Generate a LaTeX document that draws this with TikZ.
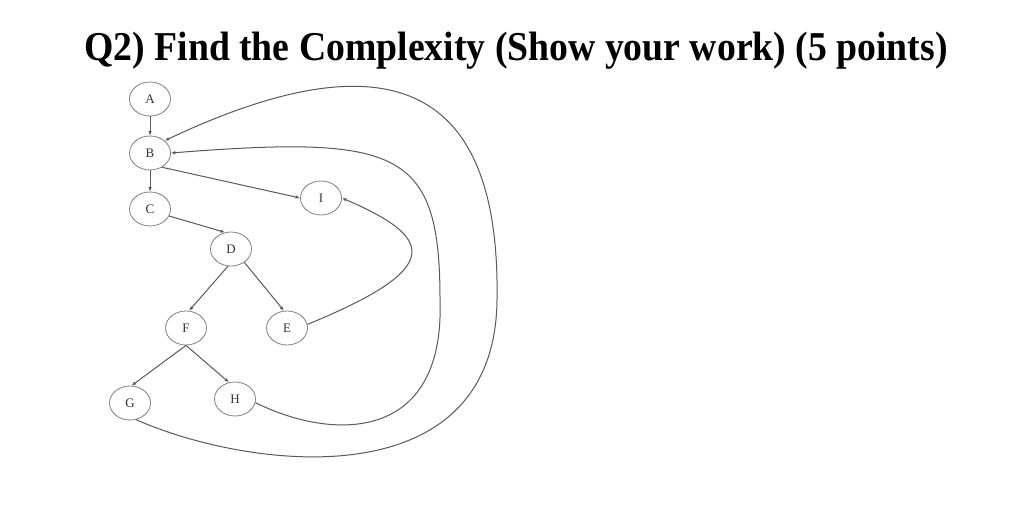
\documentclass[tikz,border=0pt]{standalone}
\usepackage{fontspec}
\setmainfont{Liberation Serif}
\usetikzlibrary{shapes.geometric,arrows.meta}

\begin{document}
\begin{tikzpicture}[x=1pt,y=-1pt,
  vertex/.style={ellipse,draw=black!50,line width=0.8pt,minimum width=41pt,minimum height=34pt,inner sep=0pt,text=black!80,font=\fontsize{13}{14}\selectfont},
  edge/.style={draw=black!65,line width=1pt,-{Latex[length=4.5pt,width=3.5pt]}}]
\path[use as bounding box,fill=white] (0,0) rectangle (1032,516);
\node[font=\fontsize{41}{44}\bfseries\selectfont,xscale=0.92] (title) at (516,51) {Q2) Find the Complexity (Show your work) (5 points)};
\node[vertex] (A) at (150,99) {A};
\node[vertex] (B) at (150,153) {B};
\node[vertex] (C) at (150,209) {C};
\node[vertex] (D) at (231,249) {D};
\node[vertex] (I) at (321,198) {I};
\node[vertex] (F) at (186,328) {F};
\node[vertex] (E) at (287,328) {E};
\node[vertex] (G) at (130,403) {G};
\node[vertex] (H) at (235,399) {H};
\draw[edge] (A) -- (B);
\draw[edge] (B) -- (C);
\draw[edge] (B.-50) -- (I.west);
\draw[edge] (C.-20) -- (D.110);
\draw[edge] (D.-100) -- (F.80);
\draw[edge] (D.-45) -- (E.100);
\draw[edge] (F.south) -- (G.85);
\draw[edge] (F.south) -- (H.110);
\draw[edge] (E.10) .. controls (445,268) and (435,238) .. (I.east);
\draw[edge] (H.-10) .. controls (330,440) and (445,445) .. (440,300) .. controls (440,150) and (400,135) .. (B.east);
\draw[edge] (G.-70) .. controls (250,470) and (495,500) .. (497,300) .. controls (500,115) and (420,20) .. (B.40);
\end{tikzpicture}
\end{document}
